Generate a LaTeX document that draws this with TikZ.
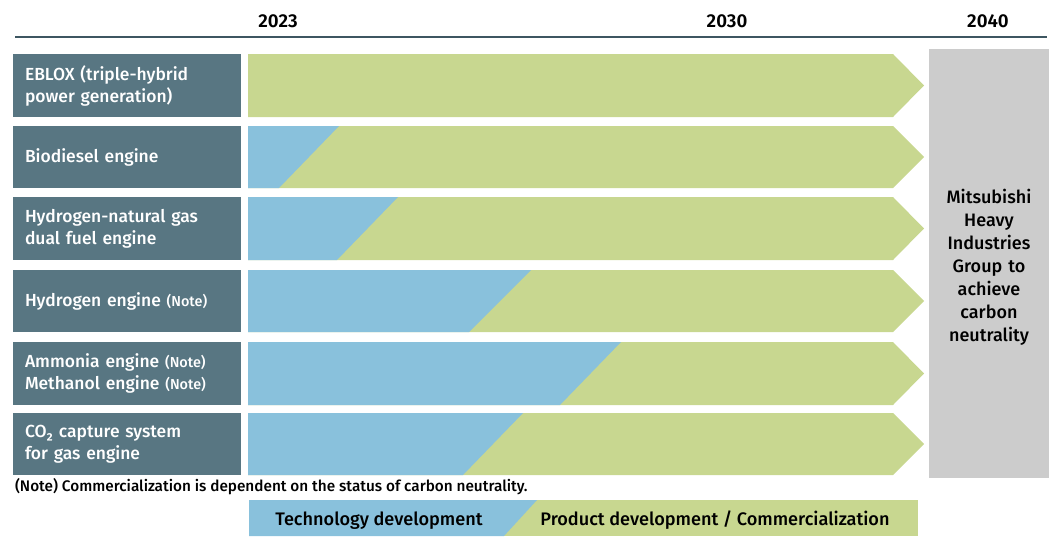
\documentclass[tikz,border=0pt]{standalone}
\usepackage{fontspec}
\setmainfont{Fira Sans}[UprightFont={* Medium},BoldFont={* SemiBold}]
\usepackage{tikz}
\definecolor{slate}{HTML}{587682}
\definecolor{rule}{HTML}{3D5661}
\definecolor{techblue}{HTML}{89C1DC}
\definecolor{prodgreen}{HTML}{C8D790}
\definecolor{goalgray}{HTML}{CCCCCC}
\tikzset{
	every node/.style={inner sep=0pt,outer sep=0pt},
	year/.style={font=\bfseries\fontsize{14}{16}\selectfont,text=black},
	label-box/.style={fill=slate,text=white,anchor=west,align=left,
		text width=153pt,inner xsep=9pt,minimum height=47pt,
		font=\fontsize{13.1}{16.5}\selectfont},
	goal-box/.style={fill=goalgray,text=black,align=center,text width=88pt,
		minimum width=90pt,minimum height=321.75pt,
		font=\fontsize{13.5}{17.25}\selectfont},
	legend-text/.style={text=black,font=\fontsize{13.6}{15}\selectfont},
	note-text/.style={text=black,anchor=west,font=\fontsize{11.5}{13}\selectfont},
	green-bar/.style={fill=prodgreen},
	blue-bar/.style={fill=techblue},
}
\begin{document}
\begin{tikzpicture}[x=0.75pt,y=-0.75pt]
	\useasboundingbox (0,0) rectangle (1060,546);
	% years
	\node[year] (y2023) at (278,21) {2023};
	\node[year] (y2030) at (727,21) {2030};
	\node[year] (y2040) at (988,21) {2040};
	\coordinate (rule-l) at (15,37);
	\coordinate (rule-r) at (1047,37);
	\draw[rule,line width=1.6pt] (rule-l) -- (rule-r);
	
	% rows
	\node[label-box] (eblox) at (13,85.5) {\raisebox{-1.5pt}{\parbox{153pt}{EBLOX (triple-hybrid\\power generation)}}};
	\node[label-box] (biodiesel) at (13,157) {\raisebox{-1pt}{Biodiesel engine}};
	\node[label-box] (dualfuel) at (13,228.5) {\raisebox{-1pt}{\parbox{153pt}{Hydrogen-natural gas\\dual fuel engine}}};
	\node[label-box] (hydrogen) at (13,301) {\raisebox{-1pt}{Hydrogen engine {\fontsize{10.8}{12}\selectfont(Note)}}};
	\node[label-box] (ammonia) at (13,373.5) {\raisebox{-1pt}{\parbox{153pt}{Ammonia engine {\fontsize{10.8}{12}\selectfont(Note)}\\Methanol engine {\fontsize{10.8}{12}\selectfont(Note)}}}};
	\node[label-box] (cocapture) at (13,444) {\raisebox{-1pt}{\parbox{153pt}{CO₂ capture system\\for gas engine}}};
	
	% bars
	\fill[green-bar] (248,54) -- (893,54) -- (924,85.5) -- (893,117) -- (248,117) -- cycle;
	
	\fill[green-bar] (248,126) -- (893,126) -- (924,157) -- (893,188) -- (248,188) -- cycle;
	\fill[blue-bar] (248,126) -- (339,126) -- (279,188) -- (248,188) -- cycle;
	
	\fill[green-bar] (248,197) -- (893,197) -- (924,228.5) -- (893,260) -- (248,260) -- cycle;
	\fill[blue-bar] (248,197) -- (398,197) -- (337,260) -- (248,260) -- cycle;
	
	\fill[green-bar] (248,270) -- (893,270) -- (924,301) -- (893,332) -- (248,332) -- cycle;
	\fill[blue-bar] (248,270) -- (531,270) -- (469,332) -- (248,332) -- cycle;
	
	\fill[green-bar] (248,342) -- (893,342) -- (924,373.5) -- (893,405) -- (248,405) -- cycle;
	\fill[blue-bar] (248,342) -- (621,342) -- (560,405) -- (248,405) -- cycle;
	
	\fill[green-bar] (248,413) -- (893,413) -- (924,444) -- (893,475) -- (248,475) -- cycle;
	\fill[blue-bar] (248,413) -- (523,413) -- (463,475) -- (248,475) -- cycle;
	
	% goal
	\fill[goalgray] (929,49) rectangle (1049,478);
	\node[goal-box,fill=none] (goal) at (989,267) {Mitsubishi\\Heavy\\Industries\\Group to\\achieve\\carbon\\neutrality};
	
	\node[note-text] (note) at (15,486.5) {(Note) Commercialization is dependent on the status of carbon neutrality.};
	
	% legend
	\fill[green-bar] (249,500) rectangle (918,536);
	\fill[blue-bar] (249,500) -- (537,500) -- (504,536) -- (249,536) -- cycle;
	\node[legend-text] (tech) at (379,520.5) {Technology development};
	\node[legend-text] (prod) at (715,520.5) {Product development / Commercialization};
\end{tikzpicture}
\end{document}
